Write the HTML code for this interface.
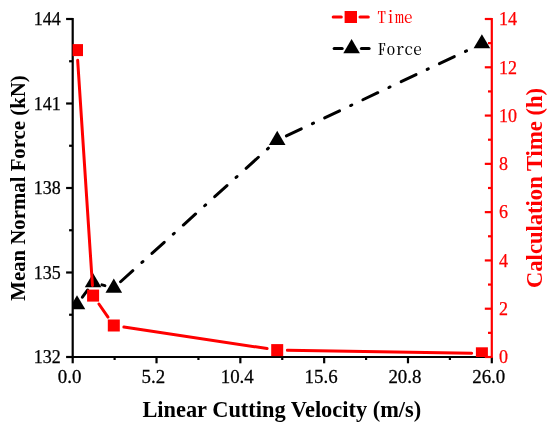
<!DOCTYPE html>
<html><head><meta charset="utf-8"><title>Chart</title>
<style>html,body{margin:0;padding:0;background:#fff;width:550px;height:428px;overflow:hidden}svg{display:block}</style>
</head><body><svg width="550" height="428" viewBox="0 0 550 428"><rect x="0" y="0" width="550" height="428" fill="#fff"/><defs><clipPath id="pc"><rect x="72.6" y="0" width="420" height="357.1"/></clipPath></defs><g stroke="#000" stroke-width="2.2" fill="none"><line x1="72.7" y1="17.9" x2="72.7" y2="358.1"/><line x1="66.1" y1="357.0" x2="72.7" y2="357.0"/><line x1="66.1" y1="272.5" x2="72.7" y2="272.5"/><line x1="66.1" y1="188.0" x2="72.7" y2="188.0"/><line x1="66.1" y1="103.5" x2="72.7" y2="103.5"/><line x1="66.1" y1="19.0" x2="72.7" y2="19.0"/><line x1="69.1" y1="314.75" x2="72.7" y2="314.75"/><line x1="69.1" y1="230.25" x2="72.7" y2="230.25"/><line x1="69.1" y1="145.75" x2="72.7" y2="145.75"/><line x1="69.1" y1="61.25" x2="72.7" y2="61.25"/><line x1="71.6" y1="357.0" x2="491.8" y2="357.0"/><line x1="72.7" y1="357.0" x2="72.7" y2="363.3"/><line x1="156.52" y1="357.0" x2="156.52" y2="363.3"/><line x1="240.34" y1="357.0" x2="240.34" y2="363.3"/><line x1="324.16" y1="357.0" x2="324.16" y2="363.3"/><line x1="407.98" y1="357.0" x2="407.98" y2="363.3"/><line x1="491.8" y1="357.0" x2="491.8" y2="363.3"/><line x1="114.61" y1="357.0" x2="114.61" y2="360.0"/><line x1="198.43" y1="357.0" x2="198.43" y2="360.0"/><line x1="282.25" y1="357.0" x2="282.25" y2="360.0"/><line x1="366.07" y1="357.0" x2="366.07" y2="360.0"/><line x1="449.89" y1="357.0" x2="449.89" y2="360.0"/></g><g stroke="#f00" stroke-width="2.2" fill="none"><line x1="491.8" y1="17.9" x2="491.8" y2="358.1"/><line x1="484.8" y1="357.0" x2="491.8" y2="357.0"/><line x1="484.8" y1="308.71" x2="491.8" y2="308.71"/><line x1="484.8" y1="260.43" x2="491.8" y2="260.43"/><line x1="484.8" y1="212.14" x2="491.8" y2="212.14"/><line x1="484.8" y1="163.86" x2="491.8" y2="163.86"/><line x1="484.8" y1="115.57" x2="491.8" y2="115.57"/><line x1="484.8" y1="67.29" x2="491.8" y2="67.29"/><line x1="484.8" y1="19.0" x2="491.8" y2="19.0"/><line x1="488.0" y1="332.86" x2="491.8" y2="332.86"/><line x1="488.0" y1="284.57" x2="491.8" y2="284.57"/><line x1="488.0" y1="236.29" x2="491.8" y2="236.29"/><line x1="488.0" y1="188.0" x2="491.8" y2="188.0"/><line x1="488.0" y1="139.71" x2="491.8" y2="139.71"/><line x1="488.0" y1="91.43" x2="491.8" y2="91.43"/><line x1="488.0" y1="43.14" x2="491.8" y2="43.14"/></g><g clip-path="url(#pc)"><g stroke="#000" stroke-width="3.0" stroke-linecap="round" stroke-dasharray="16.5 12.25 1.3 12.25" fill="none"><line x1="82.40" y1="297.22" x2="87.70" y2="289.98"/><line x1="101.96" y1="284.87" x2="104.94" y2="285.63"/><line x1="120.59" y1="281.76" x2="270.41" y2="146.34"/><line x1="286.38" y1="135.87" x2="473.63" y2="47.50"/></g><path d="M77.00 295.13L85.30 309.33L68.70 309.33Z" fill="#000"/><path d="M93.10 273.13L101.40 287.33L84.80 287.33Z" fill="#000"/><path d="M113.80 278.43L122.10 292.63L105.50 292.63Z" fill="#000"/><path d="M277.20 130.73L285.50 144.93L268.90 144.93Z" fill="#000"/><path d="M481.90 34.13L490.20 48.33L473.60 48.33Z" fill="#000"/><g stroke="#f00" stroke-width="3.0" stroke-linecap="round" fill="none"><line x1="77.67" y1="60.28" x2="92.43" y2="285.42"/><line x1="98.91" y1="303.99" x2="107.99" y2="317.11"/><line x1="123.89" y1="327.02" x2="267.11" y2="348.58"/><line x1="287.40" y1="350.26" x2="471.70" y2="353.14"/></g><rect x="71.00" y="44.10" width="12.0" height="12.0" fill="#f00"/><rect x="87.10" y="289.60" width="12.0" height="12.0" fill="#f00"/><rect x="107.80" y="319.50" width="12.0" height="12.0" fill="#f00"/><rect x="271.20" y="344.10" width="12.0" height="12.0" fill="#f00"/><rect x="475.90" y="347.30" width="12.0" height="12.0" fill="#f00"/></g><g font-family="Liberation Serif, serif" font-size="18" fill="#000" stroke="#000" stroke-width="0.25"><text x="60.8" y="363.3" text-anchor="end">132</text><text x="60.8" y="278.8" text-anchor="end">135</text><text x="60.8" y="194.3" text-anchor="end">138</text><text x="60.8" y="109.8" text-anchor="end">141</text><text x="60.8" y="25.3" text-anchor="end">144</text><text transform="translate(69.6,383.0) scale(1.05,1)" text-anchor="middle">0.0</text><text transform="translate(153.4,383.0) scale(1.05,1)" text-anchor="middle">5.2</text><text transform="translate(237.2,383.0) scale(1.05,1)" text-anchor="middle">10.4</text><text transform="translate(321.1,383.0) scale(1.05,1)" text-anchor="middle">15.6</text><text transform="translate(404.9,383.0) scale(1.05,1)" text-anchor="middle">20.8</text><text transform="translate(488.7,383.0) scale(1.05,1)" text-anchor="middle">26.0</text></g><g font-family="Liberation Serif, serif" font-size="18" fill="#f00" stroke="#f00" stroke-width="0.25"><text x="499.1" y="363.3">0</text><text x="499.1" y="315.0">2</text><text x="499.1" y="266.7">4</text><text x="499.1" y="218.4">6</text><text x="499.1" y="170.2">8</text><text x="499.1" y="121.9">10</text><text x="499.1" y="73.6">12</text><text x="499.1" y="25.3">14</text></g><text x="281.8" y="417.2" text-anchor="middle" font-family="Liberation Serif, serif" font-weight="bold" font-size="22.4" fill="#000">Linear Cutting Velocity (m/s)</text><text transform="translate(25.1,188) rotate(-90)" text-anchor="middle" font-family="Liberation Serif, serif" font-weight="bold" font-size="20.8" fill="#000">Mean Normal Force (kN)</text><text transform="translate(542.0,188) rotate(-90)" text-anchor="middle" font-family="Liberation Serif, serif" font-weight="bold" font-size="22.6" fill="#f00">Calculation Time (h)</text><g stroke="#f00" stroke-width="3.0" stroke-linecap="round"><line x1="333.2" y1="17.1" x2="341.3" y2="17.1"/><line x1="360" y1="17.1" x2="368.3" y2="17.1"/></g><rect x="344.6" y="11" width="12.4" height="12" fill="#f00"/><g stroke="#000" stroke-width="3.0" stroke-linecap="round"><line x1="334.1" y1="48.5" x2="342.2" y2="48.5"/><line x1="361.4" y1="48.5" x2="369.1" y2="48.5"/></g><path d="M351.60 39.03L359.90 53.23L343.30 53.23Z" fill="#000"/><text transform="translate(377.2,23.2) scale(1.1,1)" font-family="Noto Serif CJK SC, Liberation Serif, serif" font-size="16.1" style="font-feature-settings:&quot;hwid&quot;" fill="#f00">Time</text><text transform="translate(377.6,54.6) scale(1.1,1)" font-family="Noto Serif CJK SC, Liberation Serif, serif" font-size="16.1" style="font-feature-settings:&quot;hwid&quot;" fill="#000">Force</text></svg></body></html>
